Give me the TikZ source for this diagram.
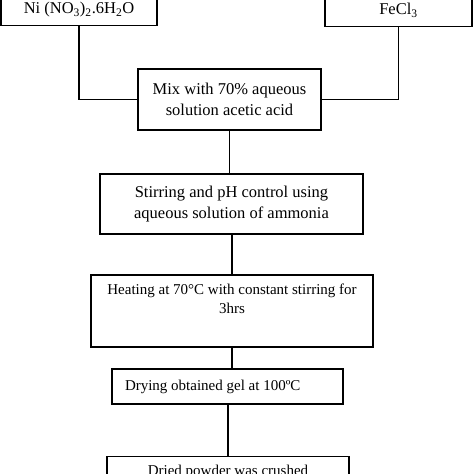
\documentclass[tikz,border=0pt]{standalone}
\usepackage{fontspec}
\setmainfont{Liberation Serif}
\tikzset{
  stepbox/.style={draw=black, line width=1.4pt, fill=white, inner sep=0pt, align=center, font=\fontsize{16.5}{21}\selectfont},
  smalltext/.style={font=\fontsize{15}{19}\selectfont},
  link/.style={draw=black, line width=1.4pt}
}
\begin{document}
\begin{tikzpicture}[x=1pt,y=-1pt]
\useasboundingbox (0,0) rectangle (474,474);
\clip (0,0) rectangle (474,474);
\fill[white] (0,0) rectangle (474,474);
\node[stepbox, minimum width=156pt, minimum height=32pt] (ni) at (79,9.5) {\raisebox{-2pt}{Ni (NO\textsubscript{3})\textsubscript{2}.6H\textsubscript{2}O}};
\node[stepbox, minimum width=147pt, minimum height=32pt] (fe) at (398.5,10.5) {\raisebox{-2pt}{FeCl\textsubscript{3}}};
\node[stepbox, minimum width=183pt, minimum height=61pt] (mix) at (229.5,99.5) {Mix with 70\% aqueous\\solution acetic acid};
\node[stepbox, minimum width=263pt, minimum height=60pt] (stir) at (231.5,204) {Stirring and pH control using\\aqueous solution of ammonia};
\node[stepbox, smalltext, minimum width=282pt, minimum height=72pt] (heat) at (232,311) {Heating at 70°C with constant stirring for\\3hrs\\\strut};
\node[stepbox, smalltext, minimum width=231pt, minimum height=35pt, text width=205pt, inner xsep=13pt, align=flush left] (dry) at (227.5,386.5) {Drying obtained gel at 100ºC};
\node[stepbox, smalltext, minimum width=242pt, minimum height=52pt, anchor=north] (dried) at (228,456) {Dried powder was crushed\\\strut};
\draw[link] (ni.south) |- (mix.west);
\draw[link] (fe.south) |- (mix.east);
\draw[link] (mix.south) -- (mix.south |- stir.north);
\draw[link] (heat.north |- stir.south) -- (heat.north);
\draw[link] (heat.south) -- (heat.south |- dry.north);
\draw[link] (dried.north |- dry.south) -- (dried.north);
\end{tikzpicture}
\end{document}
